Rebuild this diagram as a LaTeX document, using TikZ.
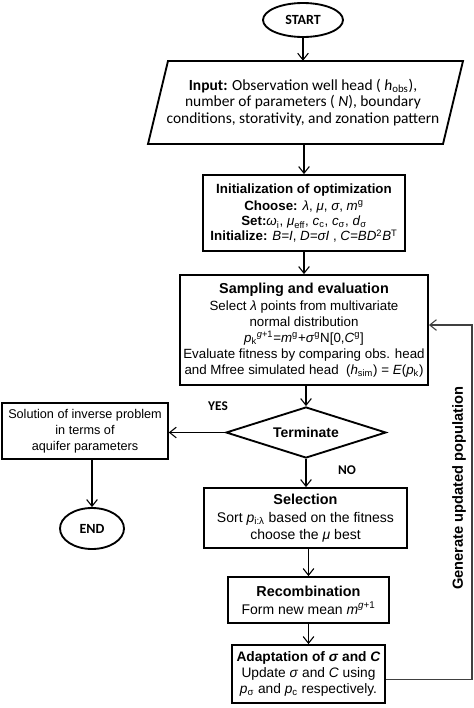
\documentclass[tikz,border=0pt]{standalone}
\usepackage{fontspec}
\setmainfont{Liberation Sans}
\newfontfamily\calfnt{Carlito}
\usetikzlibrary{shapes.geometric,arrows.meta}
\newcommand{\fs}[2]{\fontsize{#1}{#2}\selectfont}
\tikzset{
  box/.style={draw, line width=1.4pt, inner sep=0pt, align=center, font=\fs{10}{12}},
  oval/.style={draw, ellipse, line width=1.4pt, inner sep=0pt, font=\calfnt\fs{10.5}{12}\bfseries},
  arr/.style={line width=0.8pt, -{Straight Barb[length=5pt,width=8pt]}},
  lbl/.style={font=\calfnt\fs{10}{11}\bfseries},
}
\newcommand{\ttl}[1]{{\fs{10.8}{12}\bfseries #1}\\[1pt]}
\begin{document}
\begin{tikzpicture}[x=0.75pt,y=-0.75pt]
\useasboundingbox (0,0) rectangle (474,708);
% start
\node[oval, minimum width={80*0.75pt}, minimum height={34*0.75pt}] (start) at (303,20) {START};
% input parallelogram
\draw[line width=1.4pt] (168,61) -- (463,61) -- (443,144) -- (148,144) -- cycle;
\node[inner sep=0pt, minimum width={315*0.75pt}, minimum height={83*0.75pt}, align=center,
      font=\calfnt\fs{11.6}{12.5}] (input) at (303,102.5)
 {\textbf{Input:} Observation well head ( \textit{h}\textsubscript{obs}),\\
  number of parameters ( \textit{N}), boundary\\
  conditions, storativity, and zonation pattern};
% init
\node[box, font=\fs{10}{11.3}, minimum width={202*0.75pt}, minimum height={76*0.75pt}] (init) at (304,213)
 {{\fs{10}{12}\bfseries Initialization of optimization}\\[2pt]
  \textbf{Choose:} \textit{λ}, \textit{μ}, \textit{σ}, \textit{m}\textsuperscript{g}\\
  \textbf{Set:}\textit{ω}\textsubscript{i}, \textit{μ}\textsubscript{eff}, \textit{c}\textsubscript{c}, \textit{c}\textsubscript{σ}, \textit{d}\textsubscript{σ}\\
  \textbf{Initialize:} \textit{B=I}, \textit{D=σI} , \textit{C=BD}\textsuperscript{2}\textit{B}\textsuperscript{T}};
% sampling
\node[box, minimum width={248*0.75pt}, minimum height={110*0.75pt}] (samp) at (304,330)
 {\ttl{Sampling and evaluation}
  Select \textit{λ} points from multivariate\\
  normal distribution\\
  \textit{p}\textsubscript{k}\textsuperscript{\textit{g}+1}=\textit{m}\textsuperscript{g}+\textit{σ}\textsuperscript{g}N[0,\textit{C}\textsuperscript{g}]\\
  Evaluate fitness by comparing obs. head\\
  and Mfree simulated head~ (\textit{h}\textsubscript{sim}) = \textit{E}(\textit{p}\textsubscript{k})};
% terminate
\node[draw, diamond, aspect=3, line width=1.4pt, inner sep=0pt, minimum width={160*0.75pt}, minimum height={51*0.75pt},
      font=\fs{10.5}{12}\bfseries] (term) at (306,432.5) {Terminate};
% solution
\node[box, line width=1.2pt, font=\fs{9.5}{12}, minimum width={166*0.75pt}, minimum height={56*0.75pt}] (sol) at (85,431)
 {Solution of inverse problem\\ in terms of\\ aquifer parameters};
% end
\node[oval, minimum width={64*0.75pt}, minimum height={41*0.75pt}] (end) at (92,528.5) {END};
% selection
\node[box, font=\fs{10.5}{12.5}, minimum width={203*0.75pt}, minimum height={60*0.75pt}] (sel) at (305.5,518)
 {\ttl{Selection}
  Sort \textit{p}\textsubscript{i:λ} based on the fitness\\
  choose the \textit{μ} best};
% recombination
\node[box, font=\fs{10.5}{12.5}, minimum width={161*0.75pt}, minimum height={46*0.75pt}] (rec) at (308.5,600)
 {\ttl{Recombination}
  Form new mean \textit{m}\textsuperscript{\textit{g}+1}};
% adaptation
\node[box, font=\fs{10.3}{12.3}, minimum width={153*0.75pt}, minimum height={58*0.75pt}] (ada) at (308.5,674)
 {\textbf{Adaptation of \textit{σ} and \textit{C}}\\
  Update \textit{σ} and \textit{C} using\\
  \textit{p}\textsubscript{σ} and \textit{p}\textsubscript{c} respectively.};
% labels
\node[lbl] (yes) at (218,406) {YES};
\node[lbl] (no) at (347,470) {NO};
\node[font=\fs{11}{12}\bfseries, rotate=90] (gen) at (459,488) {Generate updated population};
% connectors
\draw[arr] (start.south) -- (start.south |- input.north);
\draw[arr] (input.south -| init.north) -- (init.north);
\draw[arr] (init.south) -- (init.south |- samp.north);
\draw[arr] (samp.south -| term.north) -- (term.north);
\draw[arr] (term.west) -- (sol.east |- term.west);
\draw[arr] (sol.south -| end.north) -- (end.north);
\draw[arr] (term.south) -- (term.south |- sel.north);
\draw[arr] (sel.south -| rec.north) -- (rec.north);
\draw[arr] (rec.south) -- (ada.north);
\coordinate (fbr) at (472,325);
\coordinate (fbl) at ([yshift=-4pt]ada.east);
\draw[arr, black!75] (fbl) -| (fbr) -- (fbr -| samp.east);
\end{tikzpicture}
\end{document}
